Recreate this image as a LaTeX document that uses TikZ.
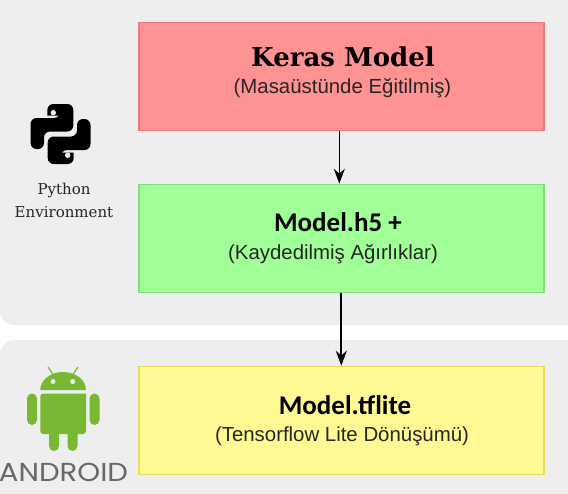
\documentclass[tikz,border=0pt]{standalone}
\usepackage{fontspec}
\setmainfont{Liberation Sans}
\newfontfamily\slabfont{DejaVu Serif}
\newfontfamily\headfont{Carlito}
\newfontfamily\wordfont{Poppins}
\usetikzlibrary{arrows.meta, positioning}
\definecolor{cpanel}{HTML}{EEEEEE}
\definecolor{cred}{HTML}{FF9292}
\definecolor{credline}{HTML}{F07878}
\definecolor{cgreen}{HTML}{A0FF96}
\definecolor{cgreenline}{HTML}{80E078}
\definecolor{cyellow}{HTML}{FFF993}
\definecolor{cyellowline}{HTML}{E6DA60}
\definecolor{cdroid}{HTML}{78B833}
\definecolor{cword}{HTML}{6A6768}
\tikzset{
  box/.style={draw=#1line, fill=#1, line width=1.5pt, minimum width=405pt, minimum height=108pt, inner sep=0pt},
  arrow/.style={-{Stealth[length=15pt, width=11pt]}, draw=black, line width=#1},
  arrow/.default=1.5pt,
  title/.style={font=\headfont\bfseries\fontsize{27}{30}\selectfont, inner sep=0pt},
  note/.style={font=\fontsize{20.4}{24}\selectfont, text=black!85, inner sep=0pt},
  env/.style={font=\slabfont\fontsize{15}{18}\selectfont, text=black!85, inner sep=0pt},
  panel/.style={fill=cpanel, rounded corners=14pt},
  limb/.style={fill=cdroid, rounded corners=5pt},
}
\begin{document}
\begin{tikzpicture}[x=1pt, y=-1pt]
  \useasboundingbox (0,0) rectangle (568,493);
  \clip (0,0) rectangle (568,493);
  \fill[panel] (0,-30) rectangle (598,325);
  \fill[panel] (0,340) rectangle (598,523);
  % boxes
  \node[box=cred] (keras) at (341.3,76.5) {};
  \node[box=cgreen] (h5) at (341.3,238.5) {};
  \node[box=cyellow] (tflite) at (341.3,420.5) {};
  \node[title, font=\slabfont\bfseries\fontsize{26}{30}\selectfont] (kerastitle) at (343,57) {Keras Model};
  \node[note] (kerasnote) at (342.5,88) {(Masaüstünde Eğitilmiş)};
  \node[title] (h5title) at (338,222) {Model.h5 +};
  \node[note] (h5note) at (333,254) {(Kaydedilmiş Ağırlıklar)};
  \node[title] (tflitetitle) at (345,405) {Model.tflite};
  \node[note] (tflitenote) at (342,436) {(Tensorflow Lite Dönüşümü)};
  \draw[arrow] ([xshift=-2pt]keras.south) -- ([xshift=-2pt]h5.north);
  \draw[arrow=2pt] (h5.south) -- (tflite.north);
  % python
  \foreach \ang in {0,180} {
    \begin{scope}[rotate around={\ang:(60.5,134)}]
      \fill[rounded corners=6pt] (60,118) [sharp corners] -- (60,115.5) -- (47.3,115.5) [rounded corners=6pt] -- (47.3,104) -- (73.3,104) -- (73.3,131.5) -- (44,131.5) -- (44,149) -- (30.5,149) -- (30.5,118) -- cycle;
      \fill[cpanel] (53.3,112.7) circle (2.7);
    \end{scope}
  }
  \node[env] (pythonlabel) at (64,190) {Python};
  \node[env] (envlabel) at (64,212) {Environment};
  % android
  \draw[cdroid, line width=1.2pt] (48,367) -- (54,376) (78,367) -- (72,376);
  \fill[cdroid] (40.3,390) arc[start angle=180, end angle=360, x radius=22.85, y radius=18] -- cycle;
  \fill[cpanel] (53,381.5) circle (2.5) (72.7,381.5) circle (2.5);
  \fill[cdroid, rounded corners=3pt] (40.3,393.5) [sharp corners] -- (86,393.5) [rounded corners=3pt] -- (86,434) -- (40.3,434) -- cycle;
  \fill[limb] (27,393.5) rectangle (37,425);
  \fill[limb] (89.5,393.5) rectangle (99.5,425);
  \fill[limb] (49,425) rectangle (59,451);
  \fill[limb] (67.5,425) rectangle (77.5,451);
  \node[font=\wordfont\fontsize{26}{28}\selectfont, text=cword, inner sep=0pt, xscale=1.12] (androidword) at (63.5,472.5) {ANDROID};
\end{tikzpicture}
\end{document}
